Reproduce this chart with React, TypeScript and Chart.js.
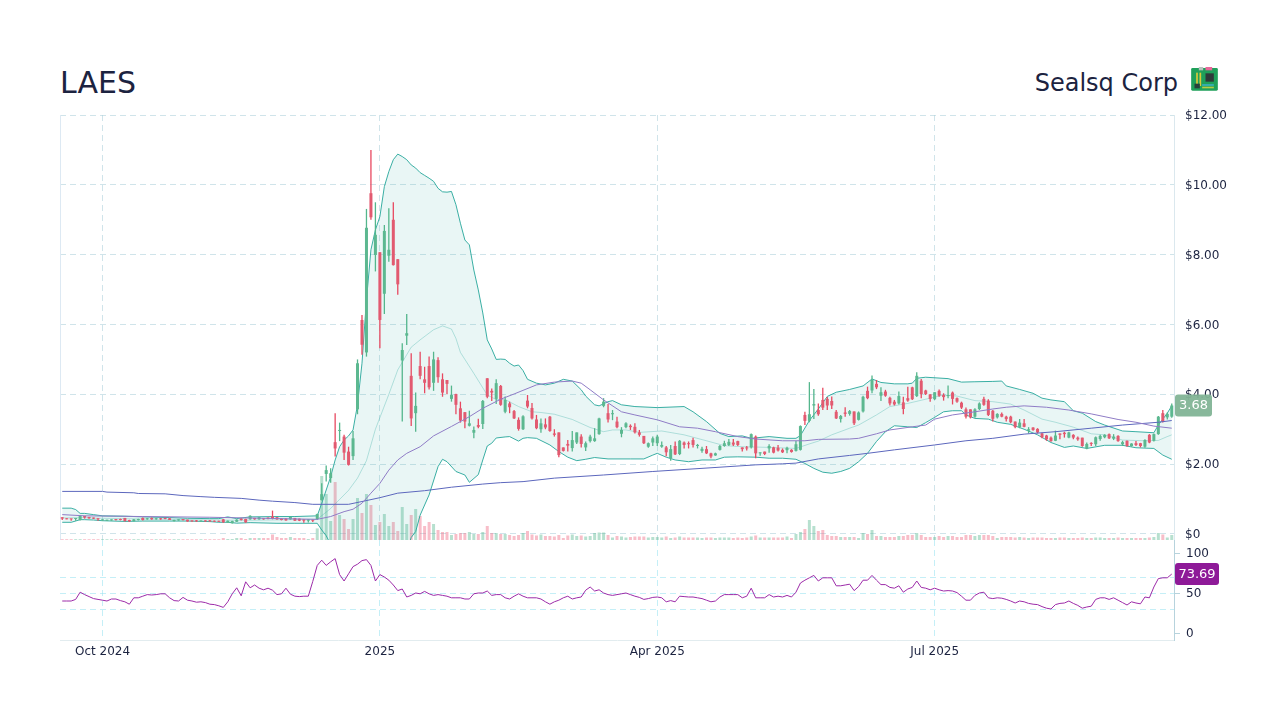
import React, { useEffect, useRef } from "react";
import { Chart, registerables } from "chart.js";

Chart.register(...registerables);

const opens = [
  .48,.45,.44,.43,.40,.52,.49,.47,.45,.39,
  .38,.39,.42,.43,.46,.40,.37,.40,.46,.42,
  .46,.42,.45,.46,.45,.37,.39,.43,.41,.39,
  .39,.36,.39,.39,.38,.37,.42,.325,.31,.35,
  .44,.43,.42,.46,.42,.45,.47,.50,.48,.44,
  .44,.42,.46,.44,.42,.38,.41,.43,.97,1.72,
  1.6,2.63,2.95,2.79,2.36,2.23,3.57,6.13,5.2,9.76,
  7.99,8.07,6.88,7.97,9.0,7.87,4.97,5.68,4.53,3.46,
  4.81,4.43,4.81,4.33,4.98,4.43,4.41,3.87,4.01,3.6,
  3.49,3.1,2.9,3.12,3.15,4.46,4.1,3.87,4.24,3.5,
  3.74,3.52,3.27,3.0,3.82,3.61,3.28,3.0,3.14,3.36,
  2.88,2.91,2.48,2.58,2.46,2.62,2.79,2.48,2.66,2.66,
  2.86,3.67,3.46,3.43,3.22,2.87,3.06,3.1,3.07,2.91,
  2.81,2.5,2.62,2.6,2.5,2.48,2.17,2.52,2.29,2.62,
  2.6,2.69,2.52,2.38,2.43,2.31,2.25,2.41,2.52,2.55,
  2.62,2.66,2.48,2.48,2.48,2.79,2.31,2.36,2.45,2.48,
  2.47,2.41,2.4,2.41,2.38,2.41,3.41,3.24,3.68,3.55,
  3.84,3.87,3.81,3.5,3.29,3.48,3.44,3.51,3.27,3.51,
  4.1,4.11,4.3,3.96,4.08,3.9,3.79,3.74,3.77,3.89,
  4.2,3.95,4.39,4.11,4.0,3.86,4.1,3.98,3.95,4.05,
  3.89,3.76,3.57,3.57,3.36,3.58,3.87,3.82,3.53,3.34,
  3.44,3.36,3.36,3.22,3.06,3.17,2.96,3.05,3.01,2.88,
  2.82,2.76,2.67,2.88,2.9,2.76,2.84,2.76,2.76,2.45,
  2.6,2.57,2.72,2.77,2.86,2.73,2.81,2.57,2.67,2.52,
  2.6,2.6,2.5,2.84,2.67,2.86,3.46,3.34,3.36,
];
const closes = [
  .44,.42,.42,.46,.52,.47,.45,.44,.42,.41,
  .41,.41,.40,.40,.37,.36,.42,.43,.40,.45,
  .42,.45,.42,.43,.40,.40,.42,.40,.36,.36,
  .36,.38,.36,.36,.35,.35,.335,.38,.37,.41,
  .40,.335,.52,.42,.48,.42,.43,.44,.42,.40,
  .39,.49,.38,.38,.38,.42,.38,.57,1.14,1.83,
  1.74,2.45,2.98,2.33,1.98,2.74,4.89,5.42,8.77,9.07,
  8.57,6.13,8.68,8.14,7.7,7.15,5.27,5.75,3.31,3.67,
  4.53,4.33,4.2,5.0,4.49,4.05,4.3,3.98,3.7,3.25,
  3.22,3.17,2.98,3.07,3.81,3.93,4.05,4.32,3.7,3.84,
  3.63,3.31,3.01,3.37,3.65,3.31,3.03,3.17,3.05,2.95,
  2.84,2.26,2.38,2.53,2.69,2.91,2.58,2.6,2.79,2.74,
  3.31,3.79,3.28,3.46,3.06,2.98,3.17,3.06,2.91,2.84,
  2.6,2.6,2.74,2.79,2.55,2.34,2.43,2.28,2.67,2.55,
  2.57,2.55,2.55,2.44,2.31,2.22,2.31,2.52,2.6,2.64,
  2.56,2.55,2.43,2.45,2.86,2.31,2.33,2.29,2.52,2.33,
  2.39,2.34,2.47,2.35,2.57,3.09,3.24,3.43,3.72,3.43,
  3.62,3.68,3.68,3.31,3.38,3.44,3.52,3.17,3.48,3.93,
  3.89,4.41,4.2,4.06,3.96,3.74,3.71,3.95,3.58,3.82,
  3.86,4.53,4.01,4.01,3.87,4.06,3.96,3.92,3.98,3.87,
  3.79,3.62,3.36,3.34,3.57,3.74,3.7,3.41,3.3,3.44,
  3.36,3.29,3.2,3.06,3.19,3.07,3.0,2.98,2.91,2.77,
  2.71,2.66,2.82,2.84,2.86,2.91,2.76,2.71,2.52,2.58,
  2.58,2.77,2.81,2.84,2.74,2.79,2.66,2.63,2.52,2.59,
  2.55,2.52,2.69,2.62,2.86,3.36,3.22,3.44,3.68,
];
const highs = [
  .48,.45,.44,.46,.54,.52,.49,.47,.45,.42,
  .41,.42,.42,.44,.46,.41,.43,.44,.47,.46,
  .47,.46,.46,.47,.46,.41,.42,.43,.41,.39,
  .40,.39,.39,.40,.39,.38,.43,.39,.38,.42,
  .45,.44,.54,.46,.49,.45,.47,.67,.49,.44,
  .45,.50,.46,.44,.42,.43,.41,.58,1.45,1.96,
  1.88,3.46,3.19,2.84,2.50,2.95,5.0,6.27,9.31,11.0,
  9.5,8.07,8.85,9.33,9.5,7.87,5.46,6.30,5.18,4.05,
  5.22,4.79,5.08,5.22,5.06,4.6,4.41,4.25,4.02,3.79,
  3.49,3.53,3.08,3.3,3.84,4.46,4.17,4.43,4.27,3.94,
  3.79,3.55,3.34,3.4,3.98,3.75,3.41,3.31,3.31,3.38,
  3.0,2.91,2.48,2.69,2.95,2.91,2.86,2.65,2.84,3.03,
  3.33,3.89,3.72,3.55,3.36,3.06,3.2,3.14,3.17,2.98,
  2.81,2.62,2.79,2.84,2.65,2.52,2.55,2.65,2.69,2.65,
  2.65,2.76,2.58,2.5,2.52,2.33,2.33,2.55,2.67,2.72,
  2.72,2.67,2.48,2.52,2.88,2.82,2.34,2.36,2.57,2.5,
  2.55,2.45,2.5,2.43,2.66,3.11,3.5,4.35,4.15,3.74,
  4.19,3.92,3.94,3.55,3.41,3.63,3.55,3.51,3.51,3.96,
  4.22,4.54,4.41,4.2,4.13,3.93,3.84,4.08,3.93,4.22,
  4.22,4.63,4.44,4.13,4.0,4.06,4.14,4.03,4.25,4.08,
  3.91,3.79,3.62,3.57,3.6,3.77,3.93,3.86,3.55,3.46,
  3.48,3.39,3.39,3.22,3.29,3.29,3.06,3.06,3.03,2.9,
  2.84,2.79,2.96,2.88,2.93,2.93,2.86,2.79,2.76,2.62,
  2.63,2.79,2.84,2.86,2.88,2.86,2.83,2.67,2.68,2.6,
  2.66,2.61,2.71,2.86,2.88,3.38,3.55,3.48,3.74,
];
const lows = [
  .40,.42,.38,.38,.39,.44,.44,.43,.38,.38,
  .37,.38,.39,.39,.36,.35,.36,.39,.39,.41,
  .41,.41,.41,.42,.40,.36,.38,.39,.35,.35,
  .35,.35,.35,.35,.34,.34,.32,.32,.30,.34,
  .39,.32,.41,.41,.41,.41,.42,.42,.41,.39,
  .38,.41,.37,.37,.32,.33,.34,.41,.96,1.50,
  1.47,2.22,2.66,2.12,1.96,2.12,3.43,5.13,5.08,9.0,
  7.52,5.32,6.30,7.8,7.69,6.85,3.22,5.41,3.09,2.93,
  4.43,4.03,4.14,4.1,4.33,3.93,4.0,3.79,3.43,3.19,
  3.03,3.08,2.74,3.03,3.01,3.89,3.81,3.72,3.67,3.46,
  3.46,3.29,2.96,2.98,3.6,3.28,3.0,2.9,3.0,2.93,
  2.79,2.2,2.36,2.36,2.36,2.58,2.48,2.38,2.62,2.64,
  2.84,3.63,3.19,3.26,3.03,2.77,3.03,2.98,2.88,2.79,
  2.58,2.47,2.52,2.52,2.47,2.23,2.1,2.26,2.26,2.45,
  2.45,2.48,2.45,2.33,2.29,2.17,2.24,2.39,2.5,2.52,
  2.52,2.52,2.36,2.39,2.45,2.17,2.24,2.26,2.33,2.31,
  2.36,2.32,2.31,2.33,2.36,2.39,3.12,3.2,3.29,3.39,
  3.55,3.55,3.58,3.29,3.19,3.36,3.39,3.12,3.25,3.48,
  3.86,4.03,4.15,3.81,3.93,3.68,3.68,3.71,3.43,3.79,
  3.84,3.92,3.89,3.98,3.79,3.84,3.93,3.82,3.89,3.71,
  3.76,3.58,3.31,3.31,3.33,3.55,3.67,3.38,3.22,3.31,
  3.34,3.22,3.17,3.03,3.03,3.06,2.88,2.96,2.88,2.74,
  2.67,2.64,2.66,2.71,2.76,2.74,2.71,2.67,2.5,2.43,
  2.52,2.52,2.67,2.74,2.72,2.69,2.64,2.52,2.5,2.5,
  2.52,2.48,2.47,2.6,2.65,2.84,3.19,3.28,3.33,
];
// volume in millions of shares
const volumes = [
  .8,.8,.8,.8,.8,.8,.8,.8,.8,.8,
  .8,.8,.8,.8,.8,.8,.8,.8,.8,.8,
  .8,.8,.8,.8,.8,.8,.8,.8,.8,.8,
  .8,.8,.8,.8,.8,.8,2,1,1,2,
  2,1,2,2,2,2,2,5.5,3,2,
  2,3,2,2,2,1,2,11.6,64,46,
  19,58,25,21,11,21,42,27,46,35,
  15,18,26,14,18,9,33,16,25,31,
  24,14,18,16,10,8,8,5,6,7,
  7,8,6,6,8,14,7,7,6,6,
  5,4,5,7,9,5.5,4.5,5.5,4,4,
  3.5,5,2,4.5,5.5,4,4.5,3.5,4,7,
  7.5,7.5,5,2.5,4,3.5,2.5,3,3.5,3.5,
  3.5,2.5,3,3,2.5,3.5,2,2.5,3.5,2.5,
  2.5,2.5,2.5,2,2.5,2.5,2,2.5,2.5,2.5,
  2,2.5,2,2.5,3.5,4.5,2.5,2.5,2.5,2.5,
  2.5,2.5,3.5,2,6,8,11,20,14,9,
  10,5,4,4,3,3,3,3,2,7,
  6,10,4,4,3,3,3,4,4,5,
  5,7,5,3,3,3,4,3,4,4,
  3,3,5,5,4,5,5,5,4,2,
  3,3,3,2.5,3,2.5,2,2.5,2.5,2.5,
  2,2,2,2.5,2.5,2,2,2,2.5,2,
  2,2.5,2.5,2,2,2,2.5,2,2,2,
  2,2,2,2.5,3,7,5.5,2.5,5,
];
const rsiValues = [
  40,40,40,42,51,48,45.5,43,42,41,
  40,42.5,42.5,40.5,39,36,44,44,46,48,
  47.5,48,49,49,44,40.5,40,44.5,41,40,
  38.5,39,38,36,35.5,34,32,39,49,56.5,
  46.5,64,56.5,60,56,54,56,53.5,48,49,
  56,48.5,46,45.5,46,46,64.5,84.5,91,84.5,
  89,93,73,65,74,83,86,90.5,91.7,84.5,
  65,73,70,66,60,53,55,45,47,50,
  49,52,49,47,48,47,46,44,44,44,
  42.5,42.5,49,50,50,52.5,47,48,48,44,
  42.5,46,49,46,44,44,44,42.5,39,36,
  39,41,44,46,42.5,44,45,53.5,57.5,52.5,
  54,50,48,47,48,49,50,48,46,44.5,
  42,43,44.5,45,44,39,40.5,39,46,45.5,
  45,45,44,43,41,39,40,45,48,48,
  48,48,44,46,56,44,44,44,48,45,
  46,45,47,45,51,62.5,66,69,72,65,
  69,69,69,59,59,60,61,53,58,66,
  66,72,66,60.5,60.5,57,56,59,51,55,
  57,65,57,56,54,56,54,52.5,53,52.5,
  50.5,46,41,41,47,50,51,44,43,44,
  43.5,42,40,37.5,40,39,37,36,35.5,33,
  31,30,35.5,37,37.5,40,37,34.5,31,32.5,
  33.5,42,44,44,42,44,41,38,35,39,
  37.5,36.5,45,44,57.5,68,69,69,73.69,
];

// session index / price, only where the line bends
const bbUpperKnots: [number, number][] = [
  [0,.74],[2,.74],[3,.70],[4,.59],[5,.59],[7,.555],[9,.52],[14,.51],[18,.49],[24,.47],[28,.45],[33,.44],[35,.44],
  [37,.49],[39,.44],[42,.49],[48,.50],[52,.50],[57,.52],[58,.88],[59,1.26],[60,1.64],[61,2.12],[62,2.5],[63,2.69],
  [64,2.81],[65,2.98],[66,3.7],[67,4.89],[68,6.7],[69,8.14],[70,8.71],[71,9.09],[72,9.95],[73,10.38],[74,10.72],
  [75,10.88],[76,10.81],[77,10.72],[78,10.57],[79,10.48],[80,10.35],[81,10.27],[82,10.19],[83,10.1],[84,9.9],[85,9.8],
  [86,9.79],[87,9.81],[88,9.43],[89,8.9],[90,8.42],[91,8.28],[92,7.56],[93,6.99],[94,6.33],[95,5.56],[96,5.3],[97,5.0],
  [98,5.01],[99,5.0],[100,4.89],[101,4.81],[102,4.84],[103,4.68],[104,4.43],[106,4.32],[108,4.27],[110,4.32],[112,4.43],
  [114,4.38],[116,4.13],[117,3.95],[119,3.7],[120,3.67],[122,3.79],[123,3.82],[125,3.7],[128,3.65],[133,3.62],[139,3.65],
  [141,3.5],[144,3.22],[147,2.88],[149,2.79],[152,2.81],[154,2.74],[158,2.79],[162,2.74],[164,2.74],[165,2.82],[167,3.25],
  [169,3.58],[171,3.94],[173,4.06],[176,4.14],[179,4.24],[181,4.44],[183,4.34],[186,4.3],[189,4.3],[190,4.32],[191,4.46],
  [193,4.49],[198,4.45],[201,4.35],[204,4.36],[208,4.37],[210,4.38],[211,4.24],[214,4.14],[217,4.03],[219,3.89],[221,3.84],
  [224,3.79],[226,3.53],[228,3.46],[231,3.22],[233,3.12],[237,2.95],[240,2.93],[244,2.9],[245,3.12],[247,3.46],[248,3.67],
];
const bbLowerKnots: [number, number][] = [
  [0,.335],[2,.335],[4,.41],[5,.41],[7,.40],[9,.38],[14,.36],[18,.37],[24,.37],[28,.37],[33,.355],[35,.335],[37,.335],
  [39,.31],[42,.325],[48,.306],[52,.306],[57,.306],[58,.115],[59,-.05],[60,-.3],[61,-.8],[64,-1.2],[70,-2],[73,-2.4],
  [75,-1.8],[77,-.5],[78,-.1],[79,.07],[80,.54],[82,1.12],[84,1.93],[85,2.14],[86,2.07],[88,1.79],[90,1.69],[91,1.48],
  [93,1.7],[94,2.12],[95,2.52],[96,2.6],[97,2.75],[99,2.78],[100,2.79],[102,2.66],[103,2.74],[104,2.76],[106,2.74],
  [109,2.55],[111,2.36],[113,2.2],[115,2.1],[117,2.14],[119,2.19],[122,2.15],[127,2.15],[130,2.15],[132,2.26],[133,2.31],
  [135,2.2],[137,2.12],[140,2.07],[143,2.12],[146,2.12],[148,2.2],[151,2.21],[155,2.2],[158,2.17],[161,2.17],[164,2.14],
  [166,2.02],[168,1.88],[170,1.77],[172,1.74],[174,1.79],[176,1.88],[178,2.07],[180,2.31],[182,2.65],[184,2.93],[186,3.1],
  [189,3.07],[191,3.05],[193,3.19],[195,3.34],[197,3.5],[199,3.53],[201,3.53],[202,3.41],[204,3.31],[207,3.29],[209,3.2],
  [212,3.14],[215,3.0],[218,2.84],[221,2.62],[224,2.48],[226,2.52],[229,2.45],[233,2.54],[237,2.54],[240,2.47],[244,2.45],
  [246,2.26],[248,2.14],
];
const bbMidKnots: [number, number][] = [
  [0,.46],[4,.47],[9,.45],[18,.43],[28,.41],[40,.39],[57,.42],[60,.73],[64,1.25],[66,1.6],[68,2.1],[70,3.0],[73,4.0],[75,4.7],
  [78,5.35],[80,5.56],[83,5.85],[85,5.96],[87,5.87],[88,5.6],[89,5.2],[92,4.6],[95,3.98],[97,3.85],[99,3.85],[102,3.65],
  [105,3.5],[107,3.48],[110,3.43],[114,3.28],[118,3.05],[121,2.93],[123,2.98],[126,2.98],[129,2.91],[134,2.95],[139,2.84],
  [144,2.67],[148,2.53],[152,2.5],[158,2.48],[164,2.45],[167,2.58],[169,2.66],[172,2.84],[176,3.03],[178,3.12],[182,3.41],
  [185,3.65],[189,3.74],[193,3.86],[197,3.98],[200,3.95],[204,3.82],[208,3.79],[212,3.72],[215,3.55],[219,3.29],[222,3.2],
  [226,3.06],[230,2.87],[233,2.84],[237,2.69],[242,2.67],[245,2.68],[247,2.79],[248,2.84],
];
const sma50Knots: [number, number][] = [
  [0,.555],[5,.52],[18,.50],[33,.48],[57,.42],[60,.5],[63,.64],[65,.71],[67,.88],[69,1.17],[71,1.45],[73,1.83],[75,2.12],
  [77,2.31],[80,2.5],[83,2.81],[87,3.08],[91,3.36],[94,3.6],[98,3.86],[101,4.01],[106,4.27],[110,4.35],[114,4.38],[116,4.32],
  [118,4.13],[121,3.84],[125,3.5],[128,3.41],[133,3.27],[138,3.07],[142,3.03],[146,2.93],[151,2.79],[155,2.72],[161,2.67],
  [166,2.67],[169,2.71],[176,2.72],[178,2.74],[182,2.87],[185,2.98],[190,3.07],[193,3.12],[195,3.29],[199,3.41],[204,3.5],
  [208,3.58],[211,3.63],[215,3.67],[220,3.63],[225,3.55],[230,3.44],[236,3.28],[240,3.2],[244,3.09],[248,3.03],
];
const sma200Knots: [number, number][] = [
  [0,1.22],[9,1.22],[10,1.2],[16,1.18],[17,1.16],[23,1.15],[27,1.1],[31,1.07],[34,1.05],[40,1.02],[44,.97],[47,.94],[52,.9],
  [56,.85],[64,.85],[67,.93],[71,1.04],[75,1.17],[81,1.24],[87,1.34],[94,1.43],[98,1.47],[103,1.5],[110,1.6],[121,1.69],
  [132,1.79],[143,1.88],[155,1.98],[161,2.01],[164,2.03],[169,2.15],[176,2.25],[180,2.31],[186,2.41],[195,2.55],[202,2.67],
  [208,2.74],[215,2.86],[222,2.93],[230,3.03],[237,3.12],[245,3.2],[248,3.25],
];

const sessions = opens.map((_, i) => String(i));
const sessionTicks = [9, 71, 133, 195];
const sessionTickLabels = ["Oct 2024", "2025", "Apr 2025", "Jul 2025"];
const priceTicks = [0, 2, 4, 6, 8, 10, 12];
const rsiTicks = [0, 30, 50, 70, 100];
const rsiLabels = [0, 50, 100];

const FONT = "'DejaVu Sans', sans-serif";
const INK = "#1c2340";
const GREEN = "rgb(84,182,140)";
const GREEN_BODY = "rgb(92,184,144)";
const RED = "rgb(232,72,96)";
const RED_BODY = "rgb(226,90,112)";
const GREEN_VOL = "rgba(84,182,140,0.42)";
const RED_VOL = "rgba(240,110,135,0.45)";
const GRID = "rgba(170,205,216,0.55)";
const GRID_RSI = "rgba(150,226,240,0.55)";

const isUp = (i: number) => closes[i] >= opens[i];
const knotData = (knots: [number, number][]) => knots.map(([k, y]) => ({ x: sessions[k], y }));

function lineSet(label: string, data: any, color: string, order: number, extra: any = {}) {
  return { type: "line", label, data, borderColor: color, borderWidth: 1, pointRadius: 0, tension: 0, order, yAxisID: "y", ...extra };
}

// chart.js keeps room for half a tick label at the ends of an axis, we want the plot edges exact
function fitAxis(s: any, size: { width?: number; height?: number }) {
  if (size.width !== undefined) s.width = size.width;
  if (size.height !== undefined) s.height = size.height;
  s.paddingTop = s.paddingBottom = s.paddingLeft = s.paddingRight = 0;
}

// value labels sit 1px lower than chart.js centres them
function nudgeLabels(s: any) {
  if (s._nudged) return;
  s._nudged = true;
  const compute = s._computeLabelItems;
  s._computeLabelItems = (area: any) =>
    compute.call(s, area).map((item: any) => ({
      ...item,
      options: { ...item.options, translation: [item.options.translation[0], item.options.translation[1] + 1] },
    }));
}

// the little box with the last value on the right axis
function lastValueTag(value: number, text: string, fill: string, width: number) {
  return {
    id: "lastValueTag",
    afterDraw(chart: any) {
      const { ctx, scales } = chart;
      const y = scales.y.getPixelForValue(value);
      const left = chart.chartArea.right + 1;
      ctx.save();
      ctx.fillStyle = fill;
      ctx.beginPath();
      ctx.roundRect(left, y - 11, width, 22, 3);
      ctx.fill();
      ctx.fillStyle = "#fff";
      ctx.font = `13px ${FONT}`;
      ctx.textAlign = "center";
      ctx.textBaseline = "middle";
      ctx.fillText(text, left + width / 2, y + 0.5);
      ctx.restore();
    },
  };
}

const xAxis = (height: number, showLabels: boolean, gridColor: string, bottomLine: boolean) => ({
  type: "category",
  offset: true,
  afterBuildTicks: (s: any) => {
    s.ticks = sessionTicks.map((value) => ({ value }));
  },
  afterFit: (s: any) => fitAxis(s, { height }),
  grid: { offset: false, color: gridColor, drawTicks: false },
  border: { display: bottomLine, color: "#e2ecef", dash: [6, 4] },
  ticks: {
    display: showLabels,
    autoSkip: false,
    maxRotation: 0,
    padding: 5,
    color: INK,
    font: { family: FONT, size: 12 },
    callback: (_: any, i: number) => sessionTickLabels[i],
  },
});

export default function App() {
  const mainRef = useRef<HTMLCanvasElement | null>(null);
  const rsiRef = useRef<HTMLCanvasElement | null>(null);

  useEffect(() => {
    if (!mainRef.current || !rsiRef.current) {
      return;
    }
    const main = new Chart(mainRef.current, {
      data: {
        labels: sessions,
        datasets: [
          {
            type: "bar", label: "Volume", data: volumes, yAxisID: "vol", order: 50, grouped: false, barThickness: 3, inflateAmount: 0,
            backgroundColor: (c: any) => (isUp(c.dataIndex) ? GREEN_VOL : RED_VOL),
          },
          lineSet("BB upper", knotData(bbUpperKnots), "rgba(38,166,154,0.9)", 40, {
            fill: "+1", backgroundColor: "rgba(38,166,154,0.1)",
          }),
          lineSet("BB lower", knotData(bbLowerKnots), "rgba(38,166,154,0.9)", 41),
          lineSet("BB mid", knotData(bbMidKnots), "rgba(38,166,154,0.3)", 42),
          {
            type: "bar", label: "Range", data: lows.map((l, i) => [l, highs[i]]), yAxisID: "y", order: 30, grouped: false,
            barThickness: 1.3, inflateAmount: 0, backgroundColor: (c: any) => (isUp(c.dataIndex) ? GREEN : RED),
          },
          {
            type: "bar", label: "Body", data: opens.map((o, i) => [o, closes[i]]), yAxisID: "y", order: 29, grouped: false,
            barThickness: 3, inflateAmount: 0, minBarLength: 1, backgroundColor: (c: any) => (isUp(c.dataIndex) ? GREEN_BODY : RED_BODY),
          },
          lineSet("SMA 50", knotData(sma50Knots), "#8f7cc6", 20),
          lineSet("SMA 200", knotData(sma200Knots), "#5c67bd", 21),
        ],
      },
      options: {
        animation: false,
        responsive: false,
        layout: { padding: { left: 60, top: 115, right: 0, bottom: 0 } },
        plugins: { legend: { display: false }, tooltip: { enabled: false } },
        scales: {
          x: xAxis(0, false, GRID, false),
          y: {
            position: "right",
            min: -0.172,
            max: 12,
            afterBuildTicks: (s: any) => {
              s.ticks = priceTicks.map((value) => ({ value }));
            },
            afterFit: (s: any) => {
              fitAxis(s, { width: 106 });
              nudgeLabels(s);
            },
            grid: { color: GRID, drawTicks: false },
            border: { dash: [6, 4], color: "#dbe8ee" },
            ticks: {
              padding: 11,
              color: INK,
              font: { family: FONT, size: 12 },
              callback: (v: any) => "$" + Number(v).toFixed(v === 0 ? 0 : 2),
            },
          },
          vol: { display: false, min: 0, max: 425 },
          edge: {
            position: "left",
            grid: { display: false },
            border: { color: "#dde9f3" },
            ticks: { display: false },
            afterFit: (s: any) => fitAxis(s, { width: 0 }),
          },
        },
      },
      plugins: [lastValueTag(3.68, "3.68", "rgba(130,180,150,0.95)", 37)],
    } as any);

    const rsi = new Chart(rsiRef.current, {
      data: {
        labels: sessions,
        datasets: [
          { type: "line", label: "RSI", data: rsiValues, yAxisID: "y", borderColor: "#9c2aa8", borderWidth: 1, pointRadius: 0, tension: 0 },
        ],
      },
      options: {
        animation: false,
        responsive: false,
        layout: { padding: { left: 60, top: 0, right: 0, bottom: 0 } },
        plugins: { legend: { display: false }, tooltip: { enabled: false } },
        scales: {
          x: xAxis(80, true, GRID_RSI, true),
          y: {
            position: "right",
            min: -8.75,
            max: 116.25,
            afterBuildTicks: (s: any) => {
              s.ticks = rsiTicks.map((value) => ({ value }));
            },
            afterFit: (s: any) => {
              fitAxis(s, { width: 106 });
              nudgeLabels(s);
            },
            grid: {
              tickLength: 6,
              color: (c: any) => (rsiLabels.includes(c.tick.value) && c.tick.value !== 50 ? "transparent" : GRID_RSI),
              tickColor: (c: any) => (rsiLabels.includes(c.tick.value) ? "#b7d3dd" : "transparent"),
            },
            border: { dash: [6, 4], color: "#b7d3dd" },
            ticks: {
              padding: 6,
              color: INK,
              font: { family: FONT, size: 12 },
              callback: (v: any) => (rsiLabels.includes(v) ? String(v) : ""),
            },
          },
        },
      },
      plugins: [lastValueTag(73.69, "73.69", "#8e1a98", 44)],
    } as any);

    return () => {
      main.destroy();
      rsi.destroy();
    };
  }, []);

  return (
    <div style={{ position: "fixed", left: 0, top: 0, width: 1280, height: 720, background: "#fff", fontFamily: FONT, color: INK }}>
      <div style={{ position: "absolute", left: 60, top: 65, fontSize: 30, lineHeight: "36px" }}>LAES</div>
      <div style={{ position: "absolute", right: 102, top: 65, fontSize: 24, lineHeight: "36px", whiteSpace: "nowrap" }}>Sealsq Corp</div>
      {/* no emoji glyph in the installed fonts looks like this board, so a small drawn icon */}
      <svg width={27} height={24} viewBox="0 0 80 72" style={{ position: "absolute", left: 1190.5, top: 67 }}>
        <rect x={0} y={3} width={80} height={68} rx={4} fill="#1fa05a" />
        <rect x={23} y={0} width={13} height={10} fill="#b9c4c0" />
        <rect x={43} y={-2} width={20} height={12} fill="#e8689a" />
        <rect x={15} y={17} width={5} height={40} fill="#d9c93a" />
        <rect x={25} y={17} width={5} height={40} fill="#d9c93a" />
        <rect x={43} y={19} width={25} height={25} fill="#2f3a3a" />
        <rect x={10} y={50} width={16} height={14} fill="#27403a" />
        <rect x={33} y={52} width={35} height={4} fill="#3fb4d8" />
        <rect x={33} y={59} width={35} height={5} fill="#b8cc44" />
      </svg>
      <canvas ref={mainRef} width={1280} height={540} style={{ position: "absolute", left: 0, top: 0 }} />
      <canvas ref={rsiRef} width={1280} height={180} style={{ position: "absolute", left: 0, top: 540 }} />
    </div>
  );
}
